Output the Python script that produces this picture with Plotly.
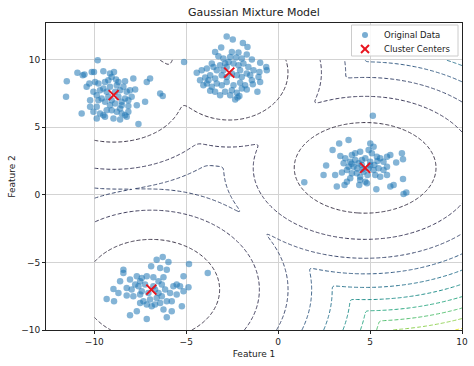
import numpy as np
import plotly.graph_objects as go

# ---- data ----
a_x = [-9.82,-10.92,-10.63,-10.54,-10.14,-10.02,-9.51,-9.15,-8.93,-11.50,-10.42,-10.27,-9.96,-9.78,-9.42,-9.24,-9.06,-8.82,-8.69,-8.33,-7.88,-7.15,-6.97,-11.54,-10.05,-9.87,-9.69,-9.51,-9.33,-9.15,-8.78,-8.60,-8.42,-8.24,-8.06,-7.78,-9.78,-9.60,-9.42,-9.24,-9.06,-8.87,-8.69,-8.51,-8.33,-8.15,-7.97,-7.69,-7.24,-6.42,-6.28,-10.23,-10.05,-9.69,-9.51,-9.33,-9.06,-8.78,-8.60,-8.51,-8.33,-8.15,-10.69,-9.87,-9.42,-8.96,-8.60,-8.24,-7.60,-10.23,-9.87,-9.15,-8.51,-8.87,-8.15]
a_y = [9.96,9.03,8.86,8.91,9.10,9.10,9.15,8.98,9.10,8.41,8.00,8.24,8.36,8.24,8.36,8.49,8.73,8.54,8.36,8.41,8.61,8.36,8.61,7.26,7.63,7.38,7.75,7.87,7.63,8.00,8.12,7.75,8.00,7.63,7.75,7.80,7.01,7.13,6.89,7.26,7.01,6.77,7.26,6.89,7.13,7.01,7.26,6.64,6.89,7.50,7.31,6.52,6.15,6.03,5.90,6.27,6.27,6.15,6.40,6.03,5.90,6.15,6.03,5.66,5.78,5.66,5.58,5.78,5.24,7.01,6.52,6.64,6.64,7.63,6.57]

b_x = [-2.80,-2.47,-1.92,-1.67,-3.10,-3.43,-2.52,-2.16,-1.71,-5.12,-2.98,-2.61,-2.29,-1.98,-1.43,-0.98,-0.65,-0.62,-4.43,-4.16,-3.88,-3.61,-3.52,-3.34,-3.16,-2.89,-2.70,-2.43,-2.16,-1.89,-1.62,-1.34,-1.02,-4.25,-3.97,-3.70,-3.43,-3.07,-2.80,-2.52,-2.25,-1.98,-1.71,-1.43,-1.07,-0.98,-4.07,-3.88,-3.61,-3.34,-3.07,-2.80,-2.43,-2.07,-1.80,-1.38,-3.70,-3.43,-2.89,-2.52,-2.25,-1.71,-1.13,-2.34,-2.21,-2.11,-2.61,-3.16,-1.98,-3.25,-2.80,-2.07,-3.79,-2.98,-1.52]
b_y = [11.73,11.49,11.24,10.95,10.90,10.58,10.58,10.53,10.38,9.84,10.09,10.21,10.16,10.09,10.01,9.77,9.47,9.23,9.03,9.23,9.35,9.72,9.47,9.23,9.59,9.72,9.84,9.72,9.59,9.72,9.47,9.23,9.10,8.49,8.68,8.86,8.61,8.86,8.73,8.98,8.86,8.73,8.98,8.49,8.73,8.36,8.12,8.24,8.00,8.24,8.12,8.36,8.12,8.29,8.12,8.19,7.70,7.63,7.63,7.75,7.55,7.80,7.63,7.06,7.21,7.31,7.38,7.38,7.87,10.26,9.47,9.23,8.49,9.23,8.86]

c_x = [1.42,2.47,2.61,2.96,3.32,3.83,3.38,3.10,3.19,3.61,3.47,3.74,3.92,4.01,4.19,4.46,4.10,4.28,4.46,4.65,4.86,4.74,5.01,5.19,5.10,5.37,5.55,5.73,5.92,6.10,6.42,6.73,6.79,5.01,5.23,5.46,5.73,5.92,5.55,5.34,6.10,6.28,6.79,6.82,6.97,4.41,3.92,3.74,3.65,3.83,4.55,4.92,5.19,4.74,3.56,4.19,4.46,4.83,4.55,4.01,4.92,5.28,5.92,5.15,4.37,4.60,5.00,4.30,5.40,4.00]
c_y = [0.94,1.48,2.17,3.32,3.81,4.06,2.88,1.48,0.62,0.74,1.65,1.85,2.46,2.95,3.08,3.20,2.09,1.60,1.35,1.72,1.48,0.98,3.81,3.57,3.08,2.83,2.71,2.46,2.83,2.95,2.39,3.08,2.63,2.46,2.21,1.97,1.85,1.48,1.35,0.42,0.62,0.74,1.18,0.07,0.17,0.74,1.23,0.98,2.71,2.09,2.21,1.97,1.85,2.71,2.34,2.58,1.11,0.86,2.58,1.60,3.32,1.48,2.09,5.85,2.34,1.90,2.20,1.95,2.50,2.30]

d_x = [-6.28,-6.61,-5.97,-4.85,-3.83,-6.91,-6.42,-6.06,-8.42,-8.42,-7.69,-7.42,-7.15,-6.79,-6.24,-5.15,-8.06,-7.51,-6.51,-5.52,-5.70,-5.34,-4.88,-8.60,-8.96,-8.69,-8.24,-7.97,-7.60,-7.24,-7.06,-6.70,-6.33,-6.15,-5.88,-5.52,-5.15,-9.33,-8.93,-7.88,-7.51,-7.33,-6.97,-6.61,-6.33,-6.06,-7.51,-7.15,-6.70,-5.24,-8.06,-7.69,-6.24,-5.79,-7.15,-6.06,-8.24,-6.79,-6.51,-7.42,-6.88,-7.78,-5.79,-6.42]
d_y = [-4.60,-4.80,-4.97,-5.12,-5.78,-5.29,-5.41,-5.54,-5.54,-5.78,-6.03,-6.15,-6.03,-6.10,-6.10,-6.03,-6.27,-6.40,-6.40,-6.64,-6.77,-6.77,-6.84,-6.40,-6.96,-7.26,-6.89,-7.01,-6.77,-6.64,-7.26,-7.01,-6.64,-7.01,-7.26,-7.38,-7.13,-7.70,-7.87,-7.50,-7.38,-7.87,-7.75,-7.63,-7.50,-7.87,-8.00,-8.12,-8.12,-8.24,-8.91,-8.61,-8.49,-8.61,-9.18,-9.05,-7.45,-6.77,-7.26,-7.13,-8.24,-6.64,-7.87,-8.00]

# fitted mixture parameters
centers_x = [-8.95, -2.66, 4.73, -6.90]
centers_y = [7.38, 9.05, 2.00, -7.01]
sigma_x = [0.90, 0.755, 0.92, 0.89]
sigma_y = [0.83, 0.83, 0.80, 0.89]
weights = [0.25, 0.25, 0.25, 0.25]

# contour levels of the negative log-likelihood
lev_start, lev_size, n_levels = 11.7, 13.1, 10

legend_labels = ["Original Data", "Cluster Centers"]
data_color = "#1f77b4"
center_color = "#e8141e"
# viridis-like line colours as they appear in the picture
line_scale = [
    [0.000, "#3c3548"], [0.111, "#3d3b5a"], [0.222, "#3d4a6e"],
    [0.333, "#385e85"], [0.444, "#2e7590"], [0.556, "#25908c"],
    [0.667, "#2ca882"], [0.778, "#52bf6f"], [0.889, "#92d256"],
    [1.000, "#e6e43c"],
]

# ---- mixture density field ----
gx = np.linspace(-10, 10, 301)
gy = np.linspace(-10, 10, 301)
GX, GY = np.meshgrid(gx, gy)
dens = np.zeros_like(GX)
for mx, my, sx, sy, w in zip(centers_x, centers_y, sigma_x, sigma_y, weights):
    m = ((GX - mx) / sx) ** 2 + ((GY - my) / sy) ** 2
    dens += w * np.exp(-0.5 * m) / (2 * np.pi * sx * sy)
Z = -np.log(dens)
lev_end = lev_start + (n_levels - 1) * lev_size

all_x = a_x + b_x + c_x + d_x
all_y = a_y + b_y + c_y + d_y

fig = go.Figure()
fig.add_trace(go.Contour(
    x=gx, y=gy, z=Z,
    contours=dict(start=lev_start, end=lev_end + 0.01, size=lev_size, coloring="lines"),
    line=dict(width=1, dash="4px,2px"),
    colorscale=line_scale, zauto=False, zmin=lev_start, zmax=lev_end,
    showscale=False, showlegend=False, hoverinfo="skip",
))
fig.add_trace(go.Scatter(
    x=all_x, y=all_y, mode="markers", name=legend_labels[0], showlegend=False,
    marker=dict(size=6.5, color=data_color, opacity=0.55, line=dict(width=0)),
))
fig.add_trace(go.Scatter(
    x=centers_x, y=centers_y, mode="markers", name=legend_labels[1], showlegend=False,
    marker=dict(size=10, symbol="x-thin", color=center_color,
                line=dict(width=2, color=center_color)),
))

# ---- legend box drawn in plot-area (paper) coordinates ----
W, H = 416.0, 307.0   # plot area size in px


def px(u):
    return u / W


def py(v):
    return v / H


shapes = [
    dict(type="rect", xref="paper", yref="paper",
         x0=1 - px(110.5), x1=1 - px(4), y0=1 - py(33), y1=1 - py(2),
         line=dict(color="#cccccc", width=1), fillcolor="rgba(255,255,255,0.85)",
         layer="above"),
    dict(type="circle", xref="paper", yref="paper",
         x0=1 - px(100), x1=1 - px(94), y0=1 - py(15), y1=1 - py(9),
         line=dict(width=0), fillcolor="rgba(31,119,180,0.6)", layer="above"),
    dict(type="line", xref="paper", yref="paper",
         x0=1 - px(101), x1=1 - px(93), y0=1 - py(22), y1=1 - py(30),
         line=dict(color=center_color, width=2), layer="above"),
    dict(type="line", xref="paper", yref="paper",
         x0=1 - px(101), x1=1 - px(93), y0=1 - py(30), y1=1 - py(22),
         line=dict(color=center_color, width=2), layer="above"),
]
annotations = [
    dict(text=legend_labels[0], xref="paper", yref="paper", x=1 - px(80.5),
         y=1 - py(12), xanchor="left", yanchor="middle", showarrow=False,
         font=dict(size=8.5, color="#222")),
    dict(text=legend_labels[1], xref="paper", yref="paper", x=1 - px(80.5),
         y=1 - py(25.5), xanchor="left", yanchor="middle", showarrow=False,
         font=dict(size=8.5, color="#222")),
]

ticks = [-10, -5, 0, 5, 10]
tick_text = ["\u221210", "\u22125", "0", "5", "10"]
axis_common = dict(
    showgrid=True, gridcolor="#d3d3d3", gridwidth=1,
    showline=True, mirror=True, linecolor="#222", linewidth=1,
    ticks="outside", ticklen=3, tickcolor="#222",
    zeroline=False, tickfont=dict(size=9, color="#222"),
    automargin=False, tickvals=ticks, ticktext=tick_text,
)
fig.update_layout(
    width=474, height=366,
    margin=dict(l=46, r=12, t=23, b=36),
    paper_bgcolor="white", plot_bgcolor="white",
    font=dict(family="DejaVu Sans", color="#222"),
    title=dict(text="Gaussian Mixture Model", x=0.5, xanchor="center",
               xref="paper", y=1 - 12 / 366, yanchor="middle",
               font=dict(size=11, color="#222")),
    xaxis=dict(range=[-12.63, 10.0],
               title=dict(text="Feature 1", font=dict(size=9), standoff=4),
               **axis_common),
    yaxis=dict(range=[-10.0, 12.72],
               title=dict(text="Feature 2", font=dict(size=9), standoff=4),
               **axis_common),
    shapes=shapes, annotations=annotations,
    showlegend=False,
)
fig.write_html("out.html", post_script="document.body.style.margin='0';",
               config={"displayModeBar": False})
